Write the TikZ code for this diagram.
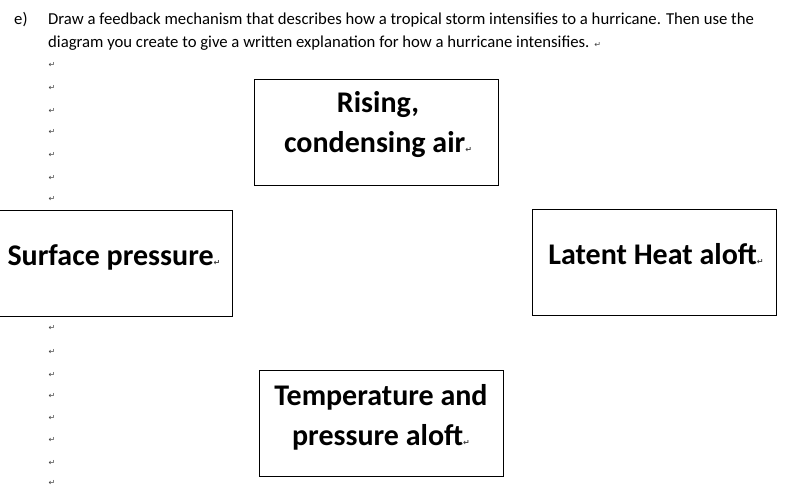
\documentclass[tikz,border=0pt]{standalone}
\usepackage{fontspec}
\setmainfont{Carlito}
\newfontfamily\retfont{DejaVu Sans}
\newcommand\retmark{{\retfont\fontsize{8}{8}\selectfont\textcolor{darkgray}{↵}}}
\begin{document}
\begin{tikzpicture}[x=1pt,y=-1pt,
  box/.style = {draw, line width=0.8pt, minimum width=244pt, minimum height=106pt, inner sep=0pt},
  big/.style = {font=\bfseries\fontsize{30}{40}\selectfont, align=center},
  body/.style = {font=\fontsize{16.7}{23}\selectfont, anchor=west, inner sep=0pt},
  ret/.style = {font=\retfont\fontsize{8}{8}\selectfont, text=darkgray, inner sep=0pt}
]
\useasboundingbox (0,0) rectangle (807,495);

\node [body] (qa) at (14,20) {e)};
\node [body] (q1) at (48,20) {Draw a feedback mechanism that describes how a tropical storm intensifies to a hurricane. Then use the};
\node [body] (q2) at (48,43) {diagram you create to give a written explanation for how a hurricane intensifies. \retmark};

\foreach \y in {65,88,111,132,155,178,199,328,352,375,396,418,440,463,483}
  \node [ret] at (52,\y) {↵};

% the four boxes
\node [box] (rising) at (376,132) {};
\node [big] (risingt) at (378,125) {Rising,\\condensing air\retmark};
\node [box, minimum width=233pt] (surface) at (116,263) {};
\node [big, anchor=west] (surfacet) at (4,257) {Surface pressure\retmark};
\node [box] (latent) at (654,262) {};
\node [big] (latentt) at (656,254) {Latent Heat aloft\retmark};
\node [box] (temp) at (381,423) {};
\node [big] (tempt) at (381,417) {Temperature and\\pressure aloft\retmark};
\end{tikzpicture}
\end{document}
